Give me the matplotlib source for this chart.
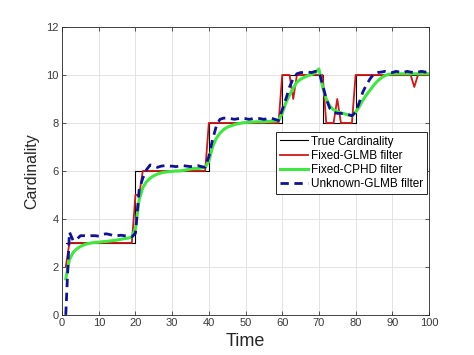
import matplotlib
matplotlib.use("Agg")
import matplotlib.pyplot as plt
import numpy as np

# ── Datos (t = 1..100) ────────────────────────────────────────
tiempo = np.arange(1, 101)

true_card = [3] * 19 + [6] * 20 + [8] * 20 + [10] * 11 + [8] * 9 + [10] * 21

fixed_glmb = ([2] + [3] * 18 + [5, 5] + [6] * 18 + [8] * 20 + [10] * 3 + [9]
              + [10] * 8 + [8] * 3 + [9] + [8] * 4 + [10] * 16 + [9.5] + [10] * 4)

fixed_cphd = [1.5, 2.3, 2.6, 2.75, 2.85, 2.92, 2.97, 3.0, 3.02, 3.03,
              3.05, 3.06, 3.08, 3.1, 3.12, 3.15, 3.18, 3.2, 3.25,
              3.6, 4.8, 5.3, 5.55, 5.7, 5.8, 5.87, 5.92, 5.95, 5.97,
              5.98, 6.0, 6.0, 6.02, 6.05, 6.08, 6.1, 6.1, 6.12, 6.15,
              6.4, 7.0, 7.35, 7.57, 7.72, 7.82, 7.88, 7.93, 7.97, 8.0,
              8.02, 8.03, 8.04, 8.05, 8.05, 8.05, 8.06, 8.07, 8.08, 8.1,
              8.4, 8.85, 9.17, 9.45, 9.7, 9.82, 9.9, 9.97, 10.02, 10.1, 10.25,
              9.5, 9.0, 8.7, 8.55, 8.48, 8.42, 8.38, 8.33, 8.3,
              8.45, 8.68, 8.95, 9.18, 9.38, 9.58, 9.75, 9.88, 9.97, 10.03, 10.05,
              10.05, 10.05, 10.05, 10.05, 10.05, 10.05, 10.05, 10.05, 10.05, 10.05]

unknown_glmb = [0.0, 3.45, 3.1, 3.15, 3.3, 3.3, 3.28, 3.3, 3.3, 3.28,
                3.35, 3.38, 3.35, 3.3, 3.3, 3.32, 3.3, 3.28, 3.25,
                3.4, 5.2, 5.7, 6.05, 6.25, 6.2, 6.15, 6.2, 6.22, 6.2,
                6.2, 6.18, 6.2, 6.22, 6.2, 6.18, 6.2, 6.22, 6.18, 6.15,
                6.6, 7.3, 7.85, 8.15, 8.2, 8.2, 8.18, 8.15, 8.18, 8.2,
                8.18, 8.15, 8.18, 8.2, 8.18, 8.15, 8.18, 8.2, 8.15, 8.1,
                8.55, 9.0, 9.5, 9.85, 10.05, 10.1, 10.1, 10.12, 10.1, 10.15, 10.15,
                9.6, 9.0, 8.6, 8.45, 8.4, 8.4, 8.38, 8.35, 8.3,
                8.45, 8.85, 9.3, 9.6, 9.85, 10.05, 10.1, 10.12, 10.15, 10.12, 10.1,
                10.15, 10.12, 10.1, 10.15, 10.12, 10.1, 10.12, 10.15, 10.12, 10.15]

etiquetas = ["True Cardinality", "Fixed-GLMB filter",
             "Fixed-CPHD filter", "Unknown-GLMB filter"]

plt.rcParams["font.family"] = ["Liberation Sans", "DejaVu Sans"]

fig = plt.figure(figsize=(4.74, 3.55), dpi=100)
ax = fig.add_axes([0.131, 0.113, 0.774, 0.811])

ax.plot(tiempo, true_card, color="black", lw=0.8, drawstyle="steps-post",
        label=etiquetas[0], zorder=3)
ax.plot(tiempo, fixed_glmb, color="#d01818", lw=1.3, label=etiquetas[1], zorder=4)
ax.plot(tiempo, fixed_cphd, color="#3ee83e", lw=2.2, label=etiquetas[2], zorder=5)
ax.plot(tiempo, unknown_glmb, color="#10109a", lw=2.0, ls=(0, (3, 2)),
        label=etiquetas[3], zorder=6)

ax.set_xlim(0, 100)
ax.set_ylim(0, 12)
ax.set_xticks(np.arange(0, 101, 10))
ax.set_yticks(np.arange(0, 13, 2))
ax.grid(True, color="#e3e3e3", lw=0.7)
ax.set_axisbelow(True)
ax.tick_params(direction="in", length=3, labelsize=8, colors="#3a3a3a",
               top=True, right=True, width=0.6, pad=2.5)
for s in ax.spines.values():
    s.set_color("#262626")
    s.set_linewidth(0.6)

ax.set_xlabel("Time", fontsize=13, labelpad=3, color="#262626")
ax.set_ylabel("Cardinality", fontsize=11.5, labelpad=5, color="#262626")

leg = ax.legend(loc="upper right", bbox_to_anchor=(0.995, 0.635), fontsize=8.5,
                fancybox=False, framealpha=1, edgecolor="#262626",
                handlelength=2.4, handletextpad=0.3, labelspacing=0.18,
                borderpad=0.3, borderaxespad=0)
leg.get_frame().set_linewidth(0.7)

fig.savefig("out.png", dpi=100)
plt.close(fig)
